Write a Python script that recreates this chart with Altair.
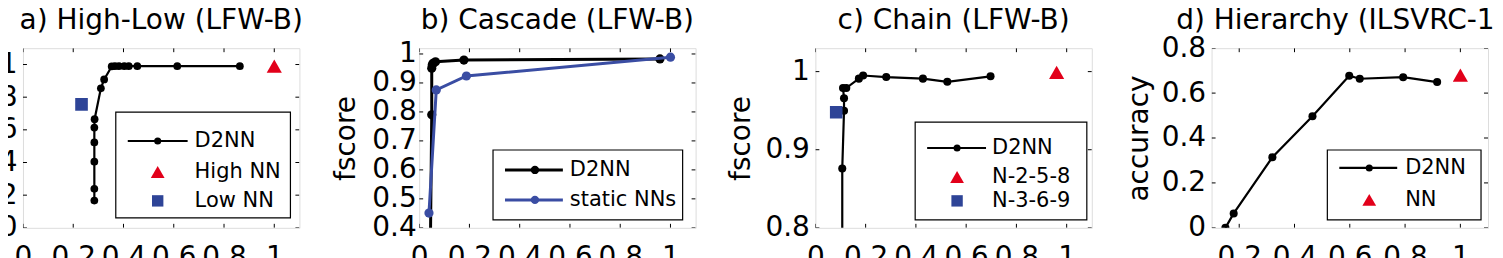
import altair as alt
import pandas as pd

FONT = "DejaVu Sans"
W, H = 277, 180
RED = "#E2001A"
BLUE = "#2E4497"
BLUE_LINE = "#3A4DA3"

# ---------------- data ----------------
# a) High-Low (LFW-B)
a_d2nn_x = [0.284, 0.284, 0.284, 0.284, 0.284, 0.285, 0.31, 0.323, 0.353, 0.366, 0.382, 0.403, 0.421, 0.455, 0.614, 0.863]
a_d2nn_y = [0.167, 0.239, 0.405, 0.523, 0.614, 0.665, 0.854, 0.909, 0.988, 0.99, 0.99, 0.99, 0.99, 0.99, 0.99, 0.99]
a_high_x, a_high_y = [1.0], [0.99]
a_low_x, a_low_y = [0.233], [0.756]

# b) Cascade (LFW-B)
b_d2nn_x = [0.043, 0.05, 0.05, 0.052, 0.055, 0.065, 0.178, 0.958]
b_d2nn_y = [0.2, 0.79, 0.951, 0.962, 0.968, 0.973, 0.979, 0.983]
b_static_x = [0.039, 0.068, 0.188, 1.0]
b_static_y = [0.451, 0.876, 0.924, 0.989]

# c) Chain (LFW-B)
c_d2nn_x = [0.107, 0.107, 0.114, 0.114, 0.11, 0.123, 0.173, 0.19, 0.282, 0.428, 0.525, 0.697]
c_d2nn_y = [0.5, 0.876, 0.95, 0.966, 0.979, 0.979, 0.991, 0.995, 0.993, 0.991, 0.987, 0.994]
c_n258_x, c_n258_y = [0.96], [0.999]
c_n369_x, c_n369_y = [0.083], [0.948]

# d) Hierarchy (ILSVRC-10)
d_d2nn_x = [0.15, 0.18, 0.32, 0.465, 0.598, 0.636, 0.793, 0.916]
d_d2nn_y = [0.0, 0.064, 0.314, 0.497, 0.677, 0.664, 0.671, 0.649]
d_nn_x, d_nn_y = [1.0], [0.68]

titles = ["a) High-Low (LFW-B)", "b) Cascade (LFW-B)", "c) Chain (LFW-B)", "d) Hierarchy (ILSVRC-10)"]
ytitles = [None, "fscore", "fscore", "accuracy"]
xticks_std = [0, 0.2, 0.4, 0.6, 0.8, 1]
xticks_d = [0.2, 0.4, 0.6, 0.8, 1]
yticks_a = [0, 0.2, 0.4, 0.6, 0.8, 1]
yticks_b = [0.4, 0.5, 0.6, 0.7, 0.8, 0.9, 1]
yticks_c = [0.8, 0.9, 1]
yticks_d = [0, 0.2, 0.4, 0.6, 0.8]

ONE = pd.DataFrame({"k": [0]})


def line_layers(xs, ys, color, width, size, X, Y):
    df = pd.DataFrame({"x": xs, "y": ys, "i": list(range(len(xs)))})
    base = alt.Chart(df)
    ln = base.mark_line(color=color, strokeWidth=width, clip=True).encode(x=X, y=Y, order="i:Q")
    pt = base.mark_point(color=color, fill=color, filled=True, opacity=1, size=size, clip=True).encode(x=X, y=Y)
    return [ln, pt]


def marker_layer(xs, ys, shape, color, size, X, Y):
    df = pd.DataFrame({"x": xs, "y": ys})
    return alt.Chart(df).mark_point(shape=shape, color=color, fill=color, filled=True, opacity=1,
                                    size=size, clip=True).encode(x=X, y=Y)


def legend_layers(box, entries, lx0, lx1, mx, tx, fs):
    x0, y0, x1, y1 = box
    out = [alt.Chart(ONE).mark_rect(fill="white", stroke="black", strokeWidth=1.2).encode(
        x=alt.value(x0), x2=alt.value(x1), y=alt.value(y0), y2=alt.value(y1))]
    for kind, label, color, ey, size, lw in entries:
        if kind == "line":
            out.append(alt.Chart(ONE).mark_rule(color=color, strokeWidth=lw).encode(
                x=alt.value(lx0), x2=alt.value(lx1), y=alt.value(ey)))
            out.append(alt.Chart(ONE).mark_point(color=color, fill=color, filled=True, opacity=1, size=size).encode(
                x=alt.value(mx), y=alt.value(ey)))
        else:
            out.append(alt.Chart(ONE).mark_point(shape=kind, color=color, fill=color, filled=True, opacity=1,
                                                 size=size).encode(x=alt.value(mx), y=alt.value(ey)))
        out.append(alt.Chart(pd.DataFrame({"label": [label]})).mark_text(
            align="left", baseline="middle", font=FONT, fontSize=fs, color="black").encode(
            text="label:N", x=alt.value(tx), y=alt.value(ey)))
    return out


def panel(title, xdom, ydom, xticks, yticks, ytitle, series, legend, lab_pad_y=6, title_pad=11):
    X = alt.X("x:Q", scale=alt.Scale(domain=xdom, nice=False, zero=False),
              axis=alt.Axis(values=xticks, format="~g", ticks=False, domain=False, grid=False,
                            labelFont=FONT, labelFontSize=28, labelColor="black", labelPadding=16,
                            labelOverlap=False, labelFlush=False, title=None))
    yaxis = dict(values=yticks, format="~g", ticks=False, domain=False, grid=False,
                 labelFont=FONT, labelFontSize=28, labelColor="black", labelPadding=lab_pad_y,
                 labelOverlap=False, labelFlush=False)
    if ytitle:
        yaxis.update(title=ytitle, titleFont=FONT, titleFontSize=28, titleFontWeight="normal",
                     titleColor="black", titlePadding=title_pad)
    else:
        yaxis.update(title=None)
    Y = alt.Y("y:Q", scale=alt.Scale(domain=ydom, nice=False, zero=False), axis=alt.Axis(**yaxis))

    layers = []
    # inward ticks on all four sides
    tx = alt.Chart(pd.DataFrame({"x": xticks}))
    ty = alt.Chart(pd.DataFrame({"y": yticks}))
    layers.append(tx.mark_rule(color="black", clip=True).encode(x=X, y=alt.value(H), y2=alt.value(H - 4)))
    layers.append(tx.mark_rule(color="black", clip=True).encode(x=X, y=alt.value(0), y2=alt.value(4)))
    layers.append(ty.mark_rule(color="black", clip=True).encode(y=Y, x=alt.value(0), x2=alt.value(4)))
    layers.append(ty.mark_rule(color="black", clip=True).encode(y=Y, x=alt.value(W - 4), x2=alt.value(W)))

    for s in series:
        if s[0] == "line":
            _, xs, ys, color, width, size = s
            layers += line_layers(xs, ys, color, width, size, X, Y)
        else:
            _, xs, ys, shape, color, size = s
            layers.append(marker_layer(xs, ys, shape, color, size, X, Y))
    layers += legend_layers(*legend)

    # panel title as text placed above the plot frame
    layers.append(alt.Chart(pd.DataFrame({"t": [title]})).mark_text(
        align="center", baseline="alphabetic", font=FONT, fontSize=28, color="black").encode(
        text="t:N", x=alt.value(W / 2), y=alt.value(-19)))

    return alt.layer(*layers).properties(width=W, height=H)


pa = panel(titles[0], [0, 1.1], [0, 1.1], xticks_std, yticks_a, ytitles[0],
           [("line", a_d2nn_x, a_d2nn_y, "black", 2.2, 60),
            ("tri", a_high_x, a_high_y, "triangle-up", RED, 230),
            ("sq", a_low_x, a_low_y, "square", BLUE, 160)],
           ((93, 64, 268, 170),
            [("line", "D2NN", "black", 93, 50, 2.2),
             ("triangle-up", "High NN", RED, 124, 190, 0),
             ("square", "Low NN", BLUE, 153, 130, 0)],
            105, 165, 135, 172, 21))

pb = panel(titles[1], [0, 1.1], [0.4, 1.02], xticks_std, yticks_b, ytitles[1],
           [("line", b_d2nn_x, b_d2nn_y, "black", 3, 85),
            ("line", b_static_x, b_static_y, BLUE_LINE, 3, 85)],
           ((74, 102, 264, 172),
            [("line", "D2NN", "black", 122, 70, 3),
             ("line", "static NNs", BLUE_LINE, 152, 70, 3)],
            86, 144, 116, 151, 21), lab_pad_y=3, title_pad=11)

pc = panel(titles[2], [0, 1.1], [0.8, 1.03], xticks_std, yticks_c, ytitles[2],
           [("line", c_d2nn_x, c_d2nn_y, "black", 2.2, 65),
            ("tri", c_n258_x, c_n258_y, "triangle-up", RED, 230),
            ("sq", c_n369_x, c_n369_y, "square", BLUE, 160)],
           ((100, 74, 272, 172),
            [("line", "D2NN", "black", 100, 50, 2.2),
             ("triangle-up", "N-2-5-8", RED, 129, 190, 0),
             ("square", "N-3-6-9", BLUE, 153, 130, 0)],
            112, 171, 142, 177, 21), title_pad=9)

pd_ = panel(titles[3], [0.1, 1.1], [0, 0.8], xticks_d, yticks_d, ytitles[3],
            [("line", d_d2nn_x, d_d2nn_y, "black", 2.2, 65),
             ("tri", d_nn_x, d_nn_y, "triangle-up", RED, 230)],
            ((116, 102, 270, 172),
             [("line", "D2NN", "black", 120, 50, 2.2),
              ("triangle-up", "NN", RED, 152, 190, 0)],
             128, 186, 158, 194, 21), title_pad=8)

chart = alt.hconcat(pa, pb, pc, pd_, spacing=120, bounds="flush").properties(
    padding={"left": -37, "top": -2, "right": -29, "bottom": 0}
).configure_view(stroke="black", strokeWidth=1.2).configure(background="white")

chart.save("out.html", embed_options={"renderer": "svg", "actions": False})
